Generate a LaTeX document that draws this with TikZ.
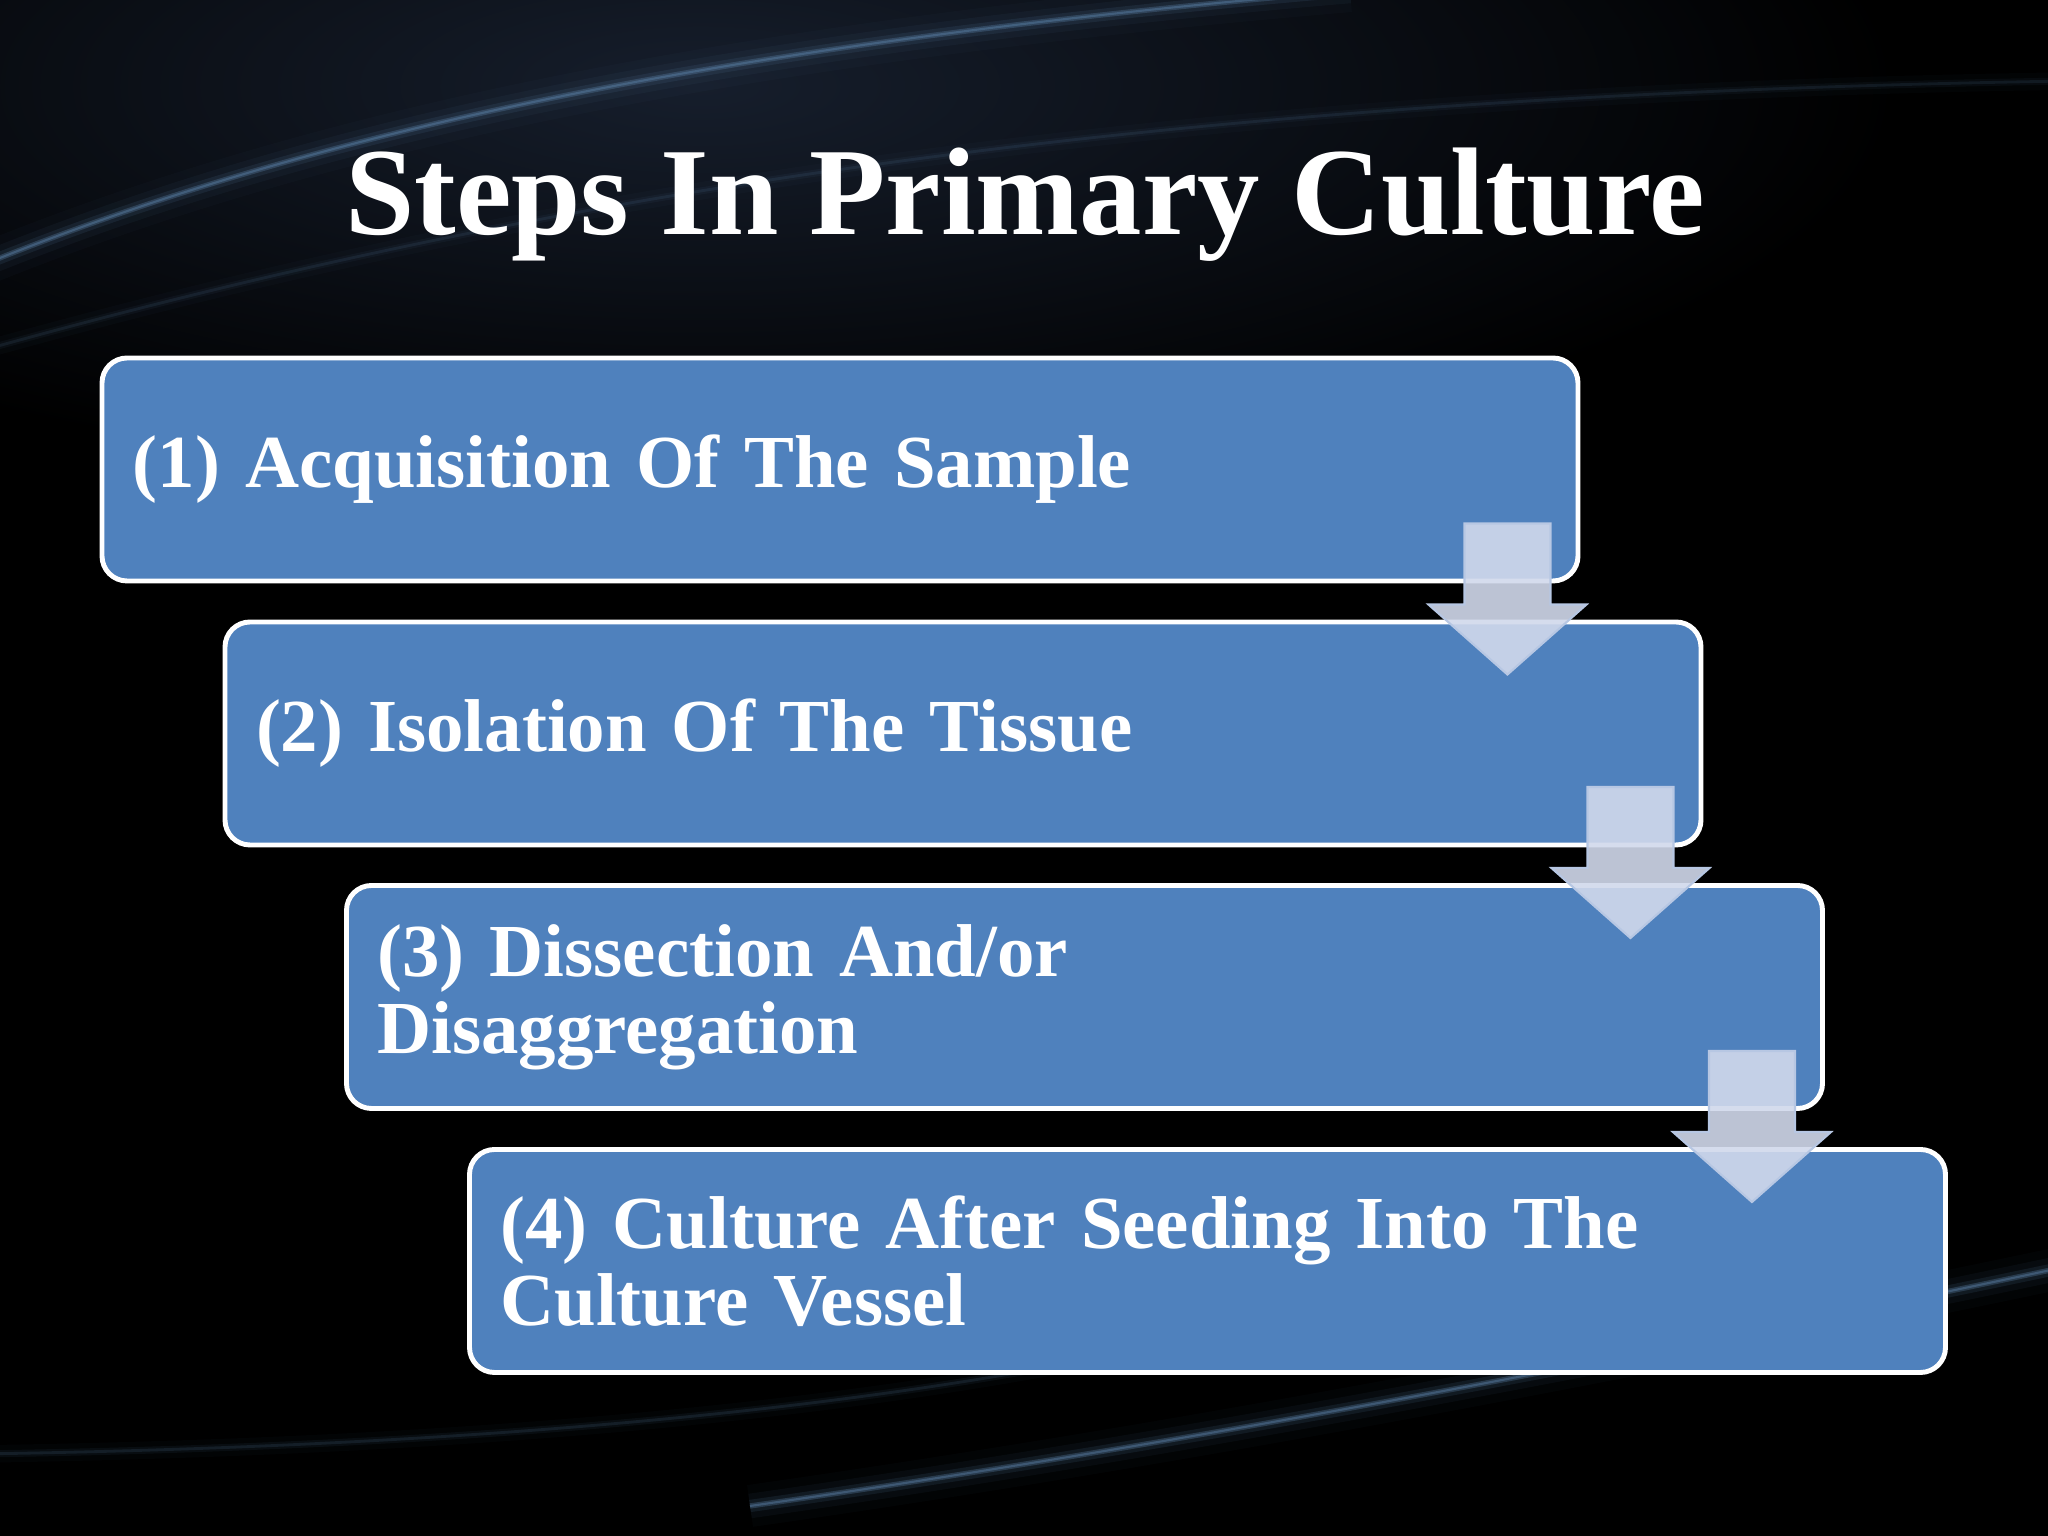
\documentclass[tikz,border=0pt]{standalone}
\usepackage{fontspec}
\setmainfont{Liberation Serif}
\usetikzlibrary{calc}

\definecolor{stepblue}{RGB}{79,129,189}
\definecolor{arrowfill}{RGB}{209,217,236}
\definecolor{streak}{RGB}{95,135,175}
\definecolor{navy}{RGB}{22,30,44}

\newcommand\tightspace{\spaceskip=0.19em plus 0.02em\relax}

\tikzset{
  stepbox/.style={draw=white, line width=1.4pt, fill=stepblue, rounded corners=0.25cm,
    minimum width=14.76cm, minimum height=2.23cm, text width=14.14cm, inner xsep=0.31cm,
    align=left, text=white,
    font=\fontsize{21.3}{22}\selectfont\bfseries\tightspace},
  downarrow/.style={fill=arrowfill, fill opacity=0.9, draw=arrowfill!80!stepblue, line width=0.6pt},
  title/.style={text=white, font=\fontsize{35.5}{36}\selectfont\bfseries}
}

\begin{document}
\begin{tikzpicture}

\useasboundingbox (0,0) rectangle (20.48,15.36);
\clip (0,0) rectangle (20.48,15.36);

% background
\fill[black] (0,0) rectangle (20.48,15.36);
\shade[inner color=navy, outer color=black] (7,14.5) ellipse (12 and 4);

\foreach \w/\o in {12/0.03, 7/0.06, 3.5/0.12, 1.5/0.3, 0.6/0.4}
  \draw[streak, line width=\w pt, opacity=\o]
    (-0.2,12.7) .. controls (3,14.0) and (7,14.9) .. (13.5,15.45);
\foreach \w/\o in {5/0.03, 2/0.06, 0.8/0.12}
  \draw[streak, line width=\w pt, opacity=\o]
    (-0.2,11.85) .. controls (5,13.3) and (11,14.4) .. (20.7,14.55);
\foreach \w/\o in {5/0.03, 2/0.07, 0.8/0.14}
  \draw[streak, line width=\w pt, opacity=\o]
    (-0.2,0.82) .. controls (5,0.9) and (9,1.3) .. (12,2.0);
\foreach \w/\o in {12/0.03, 7/0.06, 3.5/0.12, 1.5/0.3, 0.6/0.4}
  \draw[streak, line width=\w pt, opacity=\o]
    (7.5,0.3) .. controls (11,0.8) and (15,1.5) .. (20.7,2.7);

% title
\node[title, anchor=base] (title) at (10.25,13.01) {Steps In Primary Culture};

% steps
\node[stepbox] (s1) at (8.40,10.665) {(1) Acquisition Of The Sample};
\node[stepbox] (s2) at (9.63,8.025) {(2) Isolation Of The Tissue};
\node[stepbox] (s3) at (10.845,5.39) {(3) Dissection And/or\\Disaggregation};
\node[stepbox] (s4) at (12.075,2.75) {(4) Culture After Seeding Into The\\Culture Vessel};

% block arrows
\foreach \a/\b in {s1/s2, s2/s3, s3/s4} {
  \coordinate (tip) at ($(\a.south east |- \b.north)+(-0.73,-0.55)$);
  \draw[downarrow, shift={(tip)}] (0,0) -- (-0.79,0.70) -- (-0.43,0.70) -- (-0.43,1.51)
    -- (0.43,1.51) -- (0.43,0.70) -- (0.79,0.70) -- cycle;
}

\end{tikzpicture}
\end{document}
